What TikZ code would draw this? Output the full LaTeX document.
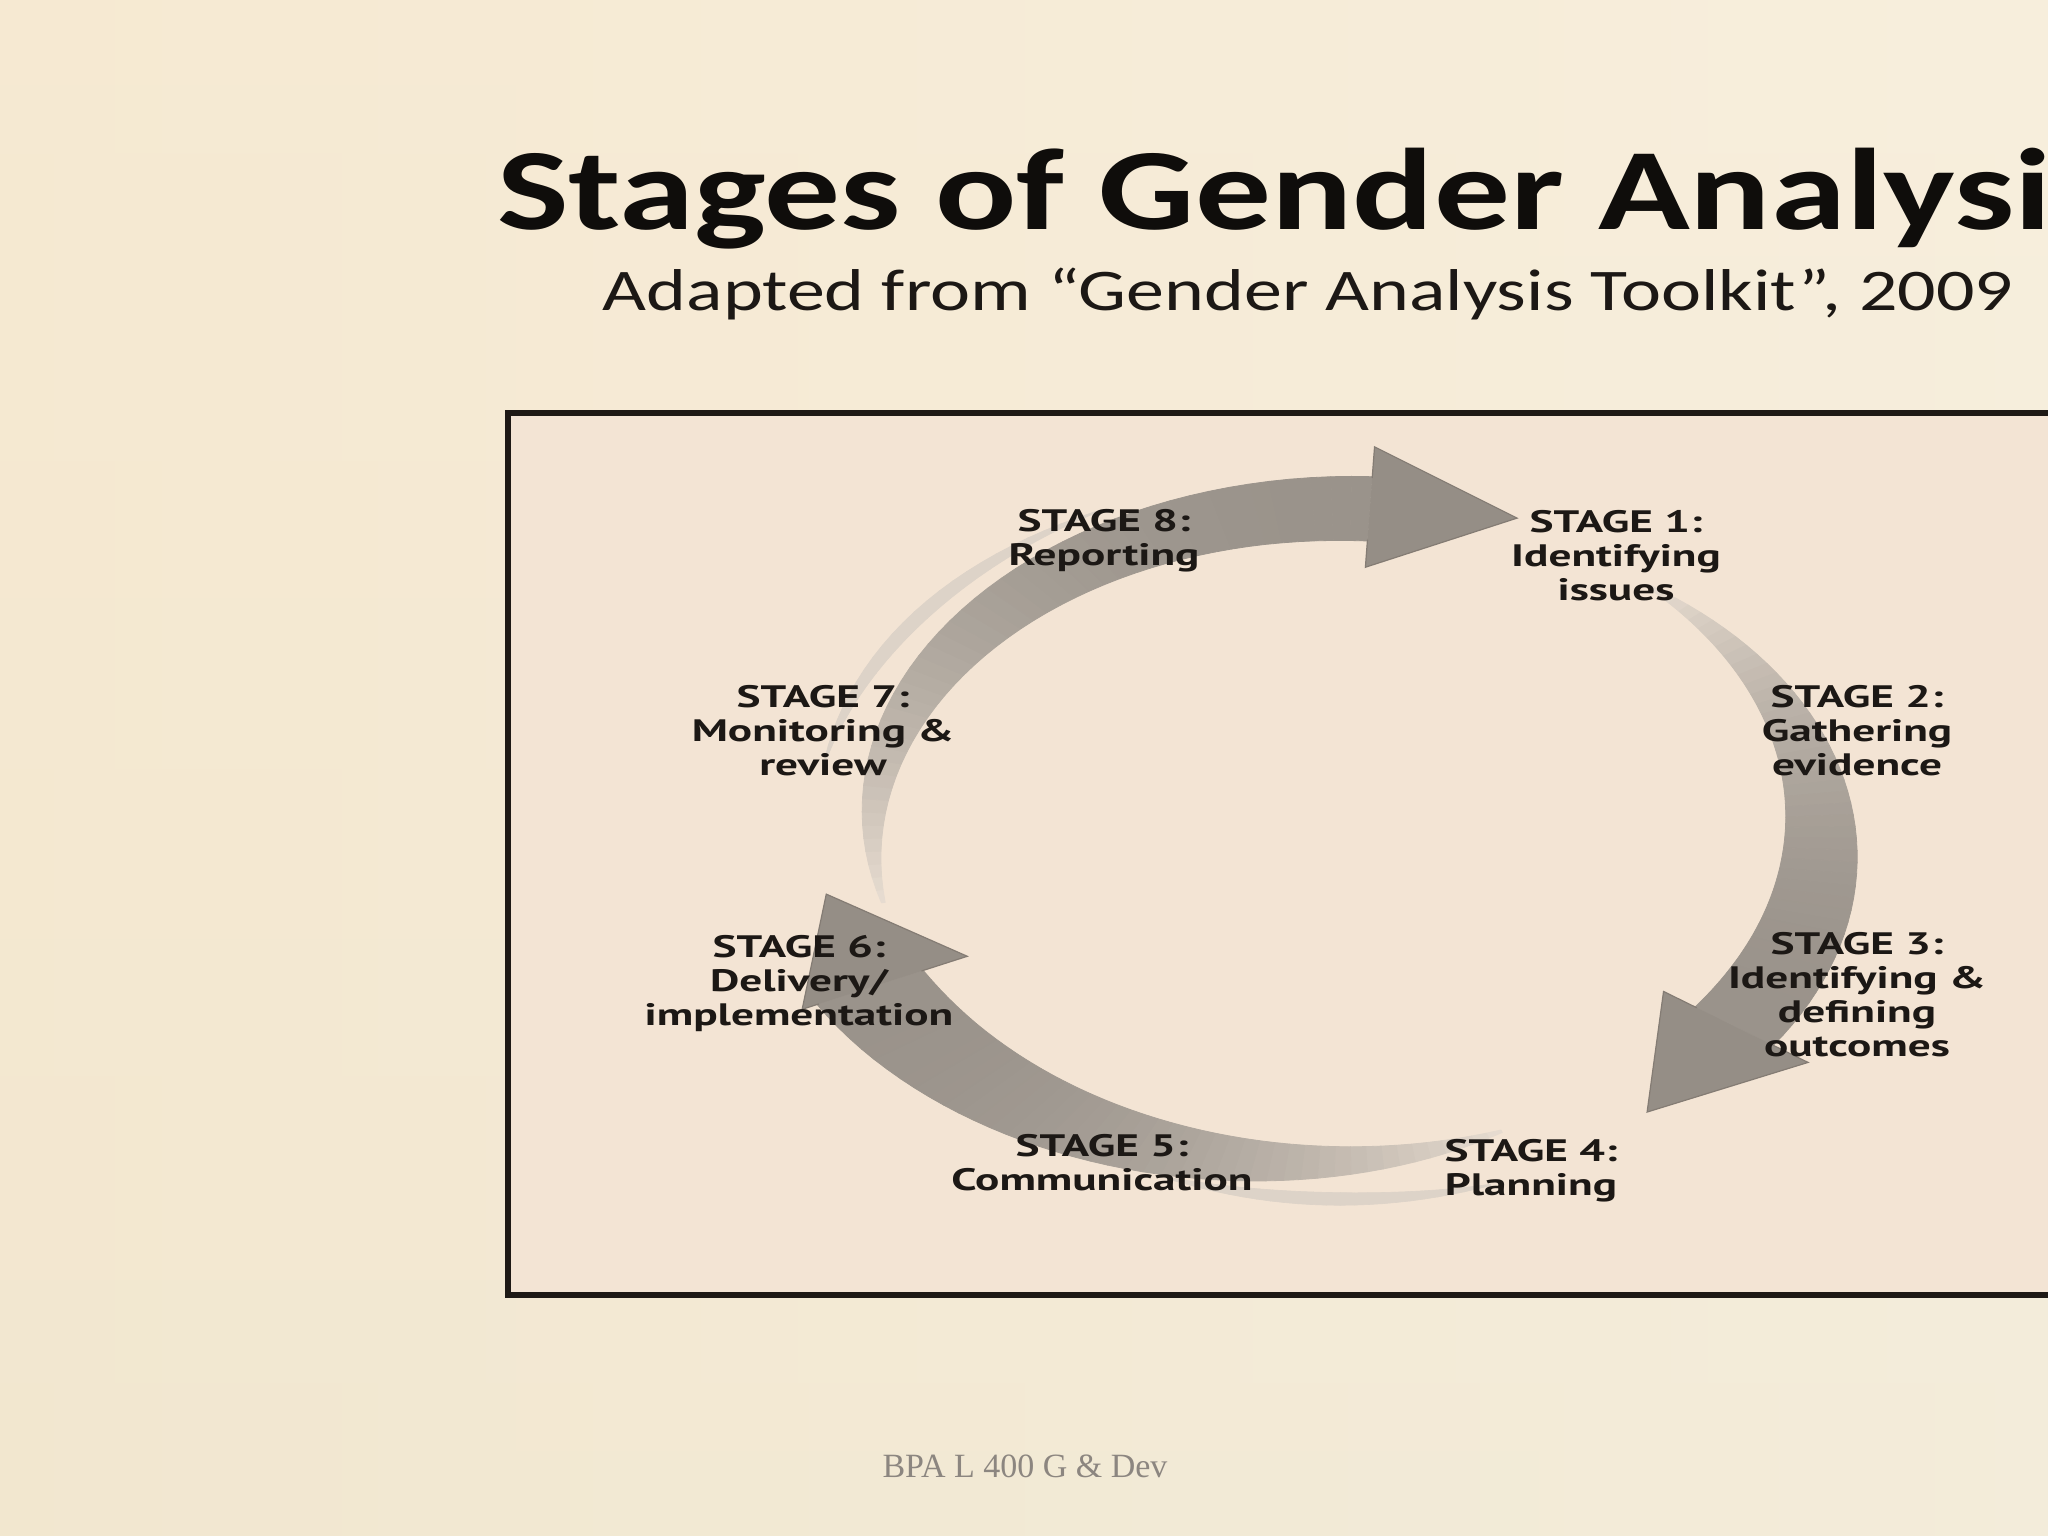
\documentclass[tikz,border=0pt]{standalone}
\usepackage{fontspec}
\usepackage{graphicx}
\newfontfamily\calfont{Carlito}
\newfontfamily\lblfont{PT Sans}
\newfontfamily\footfont{Liberation Serif}
\definecolor{bgL}{HTML}{F5E6CB}
\definecolor{bgR}{HTML}{F7EFDE}
\definecolor{bgT}{HTML}{F8EEDB}
\definecolor{bgB}{HTML}{EFE9D6}
\definecolor{boxfill}{HTML}{F3E4D4}
\definecolor{boxline}{HTML}{1E1915}
\definecolor{titlecol}{HTML}{0F0D0B}
\definecolor{textdark}{HTML}{1C1815}
\definecolor{footcol}{HTML}{8C8680}
\definecolor{arrowdark}{HTML}{9A938B}
\definecolor{arrowlight}{HTML}{EADFD3}
\definecolor{headcol}{HTML}{958E86}
\definecolor{headedge}{HTML}{847C74}
\definecolor{faintcol}{HTML}{DDD3C8}
\def\ringrx{472}
\def\ringry{325}
% tapered body along the ring: t0, t1, c0, c1, w1, N
\newcommand{\ringbody}[6]{%
  \foreach \i in {1,...,#6}{%
    \pgfmathsetmacro\ua{(\i-1)/#6}%
    \pgfmathsetmacro\ub{\i/#6}%
    \pgfmathsetmacro\ta{#1+(#2-(#1))*\ua}%
    \pgfmathsetmacro\tb{#1+(#2-(#1))*\ub}%
    \pgfmathsetmacro\ca{#3+(#4-(#3))*\ua}%
    \pgfmathsetmacro\cb{#3+(#4-(#3))*\ub}%
    \pgfmathsetmacro\wa{#5*(1-(1-\ua*0.999)^1.5)/2+0.004}%
    \pgfmathsetmacro\wb{#5*(1-(1-\ub*0.999)^1.5)/2+0.004}%
    \pgfmathsetmacro\pc{100*(1-(1-\ub*0.999)^2.2)}%
    \colorlet{segcol}{arrowdark!\pc!arrowlight}%
    \fill[segcol, draw=segcol, line width=0.8pt, line join=round]
      ({\ringrx*(1+\ca-\wa)*cos(\ta)},{\ringry*(1+\ca-\wa)*sin(\ta)})
      -- ({\ringrx*(1+\cb-\wb)*cos(\tb)},{\ringry*(1+\cb-\wb)*sin(\tb)})
      -- ({\ringrx*(1+\cb+\wb)*cos(\tb)},{\ringry*(1+\cb+\wb)*sin(\tb)})
      -- ({\ringrx*(1+\ca+\wa)*cos(\ta)},{\ringry*(1+\ca+\wa)*sin(\ta)}) -- cycle;
  }}
% head: t1, c1, w1, s_wing_in, s_wing_out, t_tip, s_tip
\newcommand{\ringhead}[7]{%
  \fill[headcol, draw=headedge, line width=1.2pt, line join=miter]
    ({\ringrx*(1+(#2)-(#3)/2)*cos(#1)},{\ringry*(1+(#2)-(#3)/2)*sin(#1)})
    -- ({\ringrx*(1+(#4))*cos(#1)},{\ringry*(1+(#4))*sin(#1)})
    -- ({\ringrx*(1+(#7))*cos(#6)},{\ringry*(1+(#7))*sin(#6)})
    -- ({\ringrx*(1+(#5))*cos(#1)},{\ringry*(1+(#5))*sin(#1)})
    -- ({\ringrx*(1+(#2)+(#3)/2)*cos(#1)},{\ringry*(1+(#2)+(#3)/2)*sin(#1)});
}
% faint band: t0, t1, s, w
\newcommand{\faintband}[4]{%
  \foreach \i in {1,...,24}{%
    \pgfmathsetmacro\ua{(\i-1)/24}%
    \pgfmathsetmacro\ub{\i/24}%
    \pgfmathsetmacro\ta{#1+(#2-(#1))*\ua}%
    \pgfmathsetmacro\tb{#1+(#2-(#1))*\ub}%
    \pgfmathsetmacro\wa{#4*sin(180*\ua)/2+0.002}%
    \pgfmathsetmacro\wb{#4*sin(180*\ub)/2+0.002}%
    \fill[faintcol, draw=faintcol, line width=0.6pt]
      ({\ringrx*(1+#3-\wa)*cos(\ta)},{\ringry*(1+#3-\wa)*sin(\ta)})
      -- ({\ringrx*(1+#3-\wb)*cos(\tb)},{\ringry*(1+#3-\wb)*sin(\tb)})
      -- ({\ringrx*(1+#3+\wb)*cos(\tb)},{\ringry*(1+#3+\wb)*sin(\tb)})
      -- ({\ringrx*(1+#3+\wa)*cos(\ta)},{\ringry*(1+#3+\wa)*sin(\ta)}) -- cycle;
  }}
\newcommand{\stagetext}[1]{\scalebox{1.46}[1]{\begin{tabular}{@{}c@{}}#1\end{tabular}}}
\tikzset{
  stagelbl/.style={font=\lblfont\bfseries\fontsize{31}{34}\selectfont, text=textdark, inner sep=0pt, anchor=center}
}
\begin{document}
\begin{tikzpicture}[x=1pt,y=-1pt]
\useasboundingbox (0,0) rectangle (2048,1536);
\clip (0,0) rectangle (2048,1536);
\shade[left color=bgL, right color=bgR] (0,0) rectangle (2048,1536);
\shade[top color=bgT, bottom color=bgB, opacity=0.45] (0,0) rectangle (2048,1536);
% framed picture
\draw[line width=6pt, draw=boxline, fill=boxfill] (508,413) rectangle (2080,1295);
% title texts
\node[anchor=base west, inner sep=0pt, text=titlecol, font=\calfont\bfseries\fontsize{116}{120}\selectfont] (title) at (497,229) {\scalebox{1.305}[1]{Stages of Gender Analysi}};
\node[anchor=base, inner sep=0pt, text=textdark, font=\calfont\fontsize{59}{62}\selectfont] (subtitle) at (1308,310) {\scalebox{1.287}[1]{Adapted from “Gender Analysis Toolkit”, 2009}};
% ring of arrows
\begin{scope}[shift={(1345,835)}, yscale=-1]
  \faintband{250}{286}{0.12}{0.035}
  \faintband{118}{168}{0.125}{0.03}
  % top arrow (stage 8 -> stage 1)
  \ringbody{192}{87}{0}{0.005}{0.19}{46}
  \ringhead{87}{0.005}{0.19}{-0.175}{0.196}{69.5}{0.041}
  % right arrow (stage 1 -> stage 3/4)
  \ringbody{50}{-35.5}{0}{0.013}{0.195}{44}
  \ringhead{-35.5}{0.013}{0.195}{-0.171}{0.205}{-53.1}{0.066}
  % bottom arrow (stage 4 -> stage 6)
  \ringbody{290}{205}{-0.03}{0.11}{0.24}{44}
  \ringhead{205}{0.11}{0.24}{-0.117}{0.269}{189.4}{0.114}
\end{scope}
% stage labels
\node[stagelbl] (s8) at (1104,542) {\stagetext{STAGE 8:\\Reporting}};
\node[stagelbl] (s1) at (1616,560) {\stagetext{STAGE 1:\\Identifying\\issues}};
\node[stagelbl] (s2) at (1857,735) {\stagetext{STAGE 2:\\Gathering\\evidence}};
\node[stagelbl] (s3) at (1857,999) {\stagetext{STAGE 3:\\Identifying \&\\defining\\outcomes}};
\node[stagelbl] (s4) at (1531,1172) {\stagetext{STAGE 4:\\Planning}};
\node[stagelbl] (s5) at (1102,1167) {\stagetext{STAGE 5:\\Communication}};
\node[stagelbl] (s6) at (799,985) {\stagetext{STAGE 6:\\Delivery/\\implementation}};
\node[stagelbl] (s7) at (823,735) {\stagetext{STAGE 7:\\Monitoring \&\\review}};
% footer
\node[anchor=base, inner sep=0pt, text=footcol, font=\footfont\fontsize{34}{36}\selectfont] (footer) at (1025,1477) {BPA L 400 G \& Dev};
\end{tikzpicture}
\end{document}
